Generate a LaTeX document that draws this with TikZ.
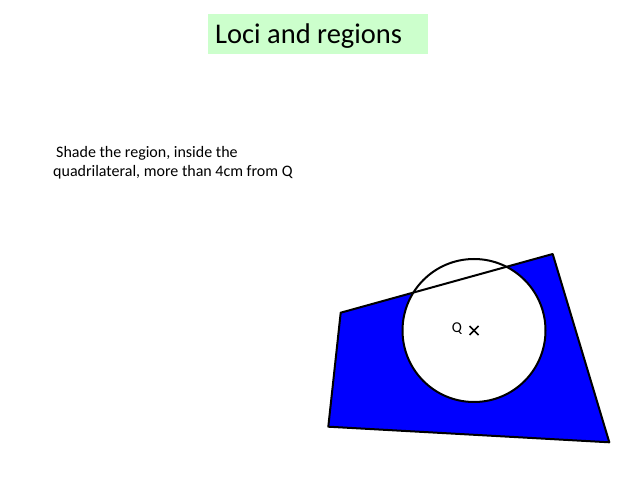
\documentclass[tikz,border=0pt]{standalone}
\usepackage{fontspec}
\setmainfont{Carlito}
\usepackage{tikz}

\definecolor{titlegreen}{HTML}{CCFFCC}

\begin{document}
\begin{tikzpicture}[x = 1pt, y = -1pt]
        \useasboundingbox (0, 0) rectangle (638, 478);

        \fill[titlegreen] (208, 14) rectangle (428, 54);
        \node[anchor = base west, inner sep = 0pt,
            font = \fontsize{28.5}{34}\selectfont] (title) at (215, 43.5) {Loci and regions};

        \begin{scope}[anchor = base west, inner sep = 0pt,
                font = \fontsize{16}{19}\selectfont]
            \node (task1) at (56, 157.5) {Shade the region, inside the};
            \node (task2) at (53, 176.5) {quadrilateral, more than 4cm from Q};
        \end{scope}

        \coordinate (A) at (340.7, 312.7);
        \coordinate (B) at (552.7, 254);
        \coordinate (C) at (609.3, 442.3);
        \coordinate (D) at (328.3, 426.7);
        \coordinate (Q) at (474, 330.5);

        \begin{scope}[line width = 2pt]
            \fill[blue] (A) -- (B) -- (C) -- (D) -- cycle;
            \fill[white] (Q) circle (71.5);
            \draw[line join = round] (A) -- (B) -- (C) -- (D) -- cycle;
            \draw (Q) circle (71.5);
        \end{scope}

        \begin{scope}[line width = 1.5pt]
            \draw ([shift = {(-4.5, -4.5)}] Q) -- ([shift = {(4.5, 4.5)}] Q);
            \draw ([shift = {(-4.5, 4.5)}] Q) -- ([shift = {(4.5, -4.5)}] Q);
        \end{scope}
        \node[font = \fontsize{15}{17}\selectfont, inner sep = 0pt] (qlabel)
            at (457, 329) {Q};
    \end{tikzpicture}
\end{document}
